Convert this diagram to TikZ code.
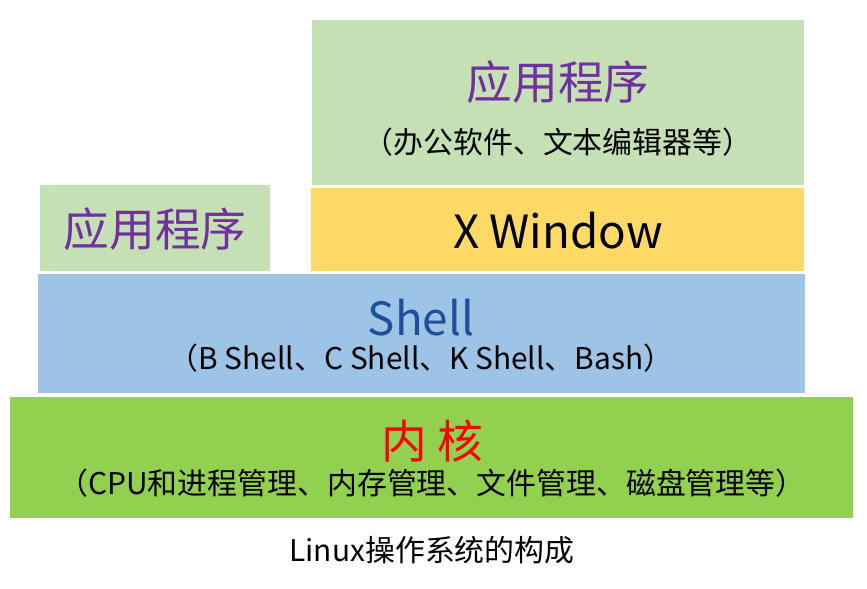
\documentclass[tikz,border=0pt]{standalone}
\usepackage{fontspec}
\setmainfont{Noto Sans CJK SC}
\usetikzlibrary{positioning}
\definecolor{appgreen}{HTML}{C5E0B4}
\definecolor{xyellow}{HTML}{FFD966}
\definecolor{shellblue}{HTML}{9DC3E6}
\definecolor{kgreen}{HTML}{92D050}
\definecolor{apptext}{HTML}{7030A0}
\definecolor{shelltext}{HTML}{1F4E9A}
\tikzset{
  layer/.style={inner sep=0pt, align=center, anchor=north west},
  big/.style={font=\fontsize{13}{15}\selectfont},
  small/.style={font=\fontsize{8.5}{10}\selectfont}
}
\begin{document}
\begin{tikzpicture}[x=0.01cm,y=-0.01cm]
\useasboundingbox (0,0) rectangle (867,589);

% Layers
\fill[appgreen] (312,20) rectangle (804,185);
\fill[appgreen] (40,185) rectangle (270,271);
\fill[xyellow] (311,188) rectangle (804,271);
\fill[shellblue] (38,274) rectangle (805,393);
\fill[kgreen] (10,397) rectangle (853,518);

% Texts
\node[big, text=apptext] (apptop) at (558,82) {应用程序};
\node[small] (apptopsub) at (558,142) {（办公软件、文本编辑器等）};
\node[big, text=apptext] (appleft) at (155,229) {应用程序};
\node[big] (xwin) at (558,231) {X Window};
\node[big, text=shelltext] (shell) at (421,318) {Shell};
\node[small] (shellsub) at (421,358) {（B Shell、C Shell、K Shell、Bash）};
\node[big, text=red] (kernel) at (432,441) {内 核};
\node[small] (kernelsub) at (432,483) {（CPU和进程管理、内存管理、文件管理、磁盘管理等）};

% Caption
\node[small] (caption) at (432,550) {Linux操作系统的构成};
\end{tikzpicture}
\end{document}
